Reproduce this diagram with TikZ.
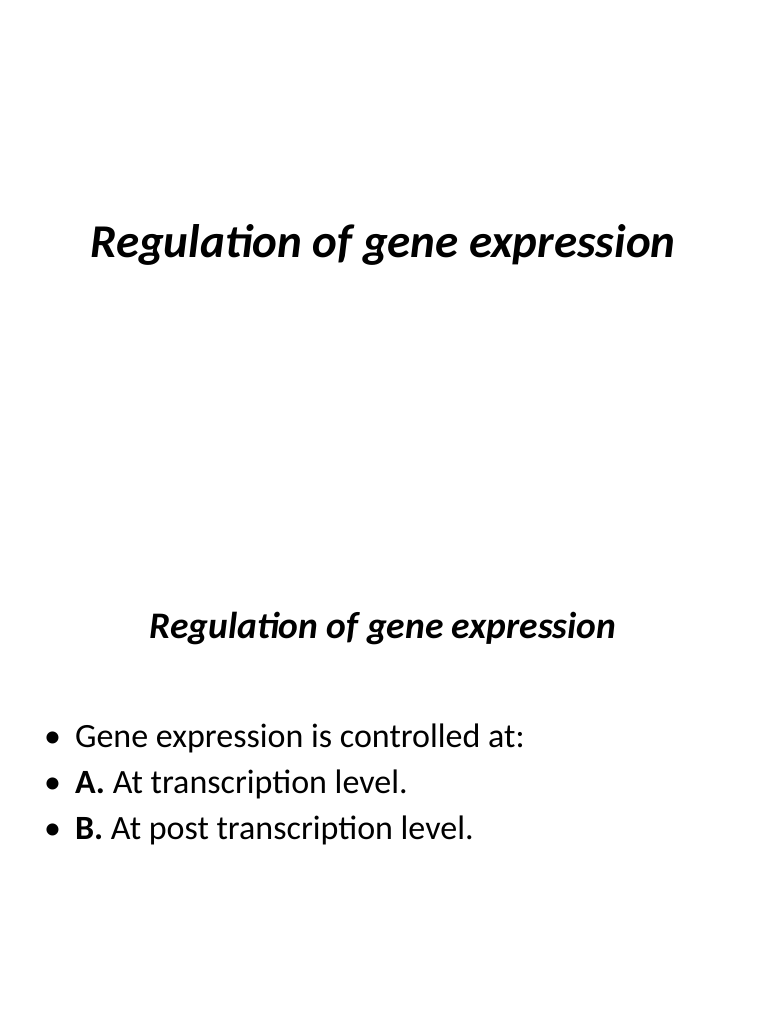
\documentclass[tikz,border=0pt]{standalone}
\usepackage{fontspec}
\setmainfont{Carlito}
\usetikzlibrary{positioning}

\begin{document}
\begin{tikzpicture}[
        x=1pt, y=-1pt,
        title/.style={font=\fontsize{47}{56}\selectfont\bfseries\itshape, anchor=center},
        subtitle/.style={font=\fontsize{37.5}{45}\selectfont\bfseries\itshape, anchor=center},
        item/.style={font=\fontsize{34}{41}\selectfont, anchor=west, inner sep=0pt}
    ]
        \useasboundingbox (0,0) rectangle (768,1024);
        % Slide 1
        \node[title] (t1) at (383,245) {Regulation of gene expression};

        % Slide 2
        \node[subtitle] (t2) at (383,628) {Regulation of gene expression};
        \node[item] (b1) at (44,738) {\textbullet\hspace{14pt}Gene expression is controlled at:};
        \node[item] (b2) at (44,784) {\textbullet\hspace{14pt}\textbf{A.} At transcription level.};
        \node[item] (b3) at (44,830) {\textbullet\hspace{14pt}\textbf{B.} At post transcription level.};
    \end{tikzpicture}
\end{document}
